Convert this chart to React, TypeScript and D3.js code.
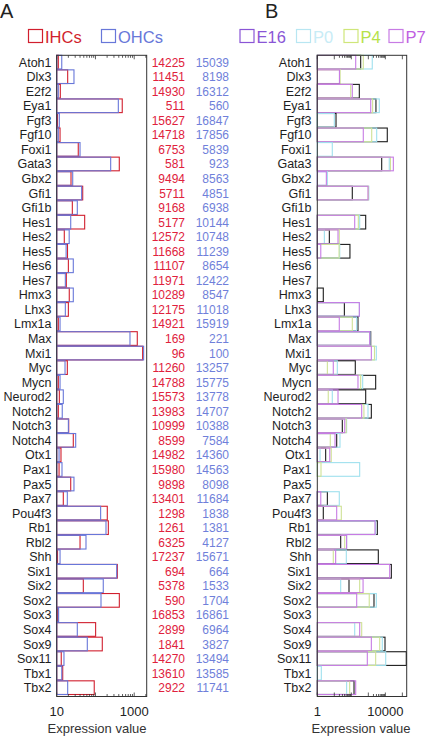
import * as d3 from 'd3';

// gene order, top to bottom
const genes = [
  'Atoh1', 'Dlx3', 'E2f2', 'Eya1', 'Fgf3', 'Fgf10', 'Foxi1', 'Gata3', 'Gbx2', 'Gfi1', 'Gfi1b',
  'Hes1', 'Hes2', 'Hes5', 'Hes6', 'Hes7', 'Hmx3', 'Lhx3', 'Lmx1a', 'Max', 'Mxi1', 'Myc',
  'Mycn', 'Neurod2', 'Notch2', 'Notch3', 'Notch4', 'Otx1', 'Pax1', 'Pax5', 'Pax7', 'Pou4f3',
  'Rb1', 'Rbl2', 'Shh', 'Six1', 'Six2', 'Sox2', 'Sox3', 'Sox4', 'Sox9', 'Sox11', 'Tbx1', 'Tbx2',
];

// panel A: rank columns
const ihcRank = [
  14225, 11451, 14930, 511, 15627, 14718, 6753, 581, 9494, 5711, 9168,
  5177, 12572, 11668, 11107, 11971, 10289, 12175, 14921, 169, 96, 11260,
  14788, 15573, 13983, 10999, 8599, 14982, 15980, 9898, 13401, 1298,
  1261, 6325, 17237, 694, 5378, 590, 16853, 2899, 1841, 14270, 13610, 2922,
];
const ohcRank = [
  15039, 8198, 16312, 560, 16847, 17856, 5839, 923, 8563, 4851, 6938,
  10144, 10748, 11239, 8654, 12422, 8547, 11018, 15919, 221, 100, 13257,
  15775, 13778, 14707, 10388, 7584, 14360, 14563, 8098, 11684, 1838,
  1381, 4127, 15671, 664, 1533, 1704, 16861, 6964, 3827, 13494, 13585, 11741,
];

// panel A: expression values (log axis)
const ihcExpr = [
  11, 19.2, 12.4, 491, 10.5, 12.2, 36, 412, 23.4, 46.9, 25.3,
  52.7, 15.7, 19, 20, 17.7, 21.1, 20, 11, 1200, 1650, 18.8,
  11, 11.7, 11, 20.4, 26.8, 12.9, 11.5, 23, 14.8, 202,
  215, 40, 10.5, 367, 48.6, 413, 10.4, 101, 150, 13.1, 14.3, 93,
];
const ohcExpr = [
  13.5, 27.9, 11, 389, 11.7, 11, 40, 247, 25.9, 44, 34,
  23, 21, 17.5, 26.8, 16.7, 26.8, 16.7, 12.2, 778, 1750, 16.4,
  12.2, 14.8, 13.9, 20, 30.9, 11.5, 13.7, 27.9, 18.8, 136,
  187, 57, 12.2, 353, 159, 139, 11.2, 34, 61.6, 15.4, 13.5, 19.2,
];

// panel B: expression by stage (null = not shown)
const e16 = [
  355, null, 295, 2800, 12.6, 13000, null, 6100, null, 114, null,
  700, 5.1, 83, null, null, 2.25, 39, 246, 1380, null, 171,
  2700, 700, 1500, 29.5, 13.8, 3.1, null, null, 3.9, 2.25,
  3380, 23.7, 3860, 22500, 73, 2150, null, null, 9550, 170000, null, 144,
];
const p0 = [
  1700, null, null, 4400, 10, 3100, 7.6, 17000, 3.9, 1070, null,
  310, 2.6, 20.8, null, null, null, 300, 207, 1250, 2950, 15,
  465, 7.6, 955, 53, 21.6, 1.45, 310, null, 19.6, null,
  2700, 53, 50.7, null, 23.7, 2950, null, 158, 6600, 10500, 1.72, 53,
];
const p4 = [
  505, 22, 92, 1790, null, 1580, null, 20000, null, 1000, null,
  258, 19.6, 19, null, null, null, null, 114, null, 2300, 3.9,
  355, 4.4, 550, 50, 5.8, 6.6, 1.65, null, null, 25.8,
  null, 40.8, 8.7, null, 310, 1130, null, 407, 4670, 2700, null, 80,
];
const p7 = [
  181, 20, 114, 1380, null, 505, null, 29500, 3.4, 955, null,
  158, 16.5, 1.6, null, null, null, 294, 19.6, 1200, 1500, 8.7,
  246, 16.5, 407, 40.8, 11, 5.4, null, null, 1.6, 13.8,
  2460, 53, 12, 18000, 490, 207, null, 310, 1500, 870, null, 181,
];

const W = 428;
const H = 736;
const FONT = 'Liberation Sans, Arial, sans-serif';

const RED = '#d11f2e';
const BLUE = '#6877d9';
const C_E16 = '#1c1c1c';
const C_P0 = '#9fe0ee';
const C_P4 = '#cfe296';
const C_P7 = '#c77be4';

const top = 55.3;
const bottom = 696.5;

export default function App() {
  const y = d3.scaleBand<string>().domain(genes).range([top, bottom - 2]).paddingInner(0.06);

  const xa = d3.scaleLog().domain([10, 2100]).range([56.7, 146.7]);
  const xb = d3.scaleLog().domain([1, 180000]).range([317.3, 406.7]);

  const isMajor = (v: number) => Math.abs(Math.log10(v) - Math.round(Math.log10(v))) < 1e-9;
  const ticksA = xa.ticks();
  // panel B only shows minor ticks in alternate decades
  const ticksB = xb.ticks().filter(v => {
    const dec = Math.floor(Math.log10(v) + 1e-9);
    return isMajor(v) || dec === 1 || dec === 3 || dec === 5;
  });

  const ticks = (x: d3.ScaleLogarithmic<number, number>, vals: number[]) =>
    vals.map((v, i) => {
      const len = isMajor(v) ? 4 : 2.5;
      const px = x(v);
      return (
        <g key={i}>
          <line x1={px} x2={px} y1={top} y2={top + len} stroke="#333" strokeWidth={0.8} />
          <line x1={px} x2={px} y1={bottom} y2={bottom - len} stroke="#333" strokeWidth={0.8} />
        </g>
      );
    });

  const frame = (x: d3.ScaleLogarithmic<number, number>) => {
    const [x0, x1] = x.range();
    return <rect x={x0} y={top} width={x1 - x0} height={bottom - top} fill="none" stroke="#333" strokeWidth={1} />;
  };

  const bar = (x: d3.ScaleLogarithmic<number, number>, g: string, v: number | null, color: string, key: string) => {
    if (v == null) return null;
    const x0 = x.range()[0];
    const w = Math.max(0, x(Math.max(v, x.domain()[0])) - x0);
    return (
      <rect key={key} x={x0} y={y(g)} width={w} height={y.bandwidth()}
        fill="none" stroke={color} strokeWidth={1.1} />
    );
  };

  const legendBox = (x: number, color: string, label: string, textColor: string, key: string) => (
    <g key={key}>
      <rect x={x} y={29.5} width={14} height={13} fill="none" stroke={color} strokeWidth={1.2} />
      <text x={x + 16.5} y={42.5} fontSize={16.5} fill={textColor} fontFamily={FONT}>{label}</text>
    </g>
  );

  return (
    <svg width={W} height={H} style={{ position: 'absolute', left: 0, top: 0, background: '#fff' }}>
      <text x={0} y={18} fontSize={20} fill="#222" fontFamily={FONT}>A</text>
      <text x={265} y={18} fontSize={20} fill="#222" fontFamily={FONT}>B</text>

      {legendBox(28.5, RED, 'IHCs', RED, 'ihc')}
      {legendBox(101.5, BLUE, 'OHCs', BLUE, 'ohc')}

      {legendBox(240, '#8a55d6', 'E16', '#8a55d6', 'e16')}
      {legendBox(296.5, '#b8e6f2', 'P0', '#c8ecf6', 'p0')}
      {legendBox(344, '#cfe67a', 'P4', '#b6e24a', 'p4')}
      {legendBox(389, '#c77be4', 'P7', '#c060e2', 'p7')}

      {/* panel A */}
      {genes.map((g, i) => (
        <g key={'a' + g}>
          {bar(xa, g, ihcExpr[i], RED, 'r')}
          {bar(xa, g, ohcExpr[i], BLUE, 'b')}
        </g>
      ))}
      {frame(xa)}
      {ticks(xa, ticksA)}
      {genes.map(g => {
        const cy = (y(g) as number) + y.bandwidth() / 2 + 4.5;
        return (
          <text key={'la' + g} x={51.5} y={cy} textAnchor="end" fontSize={12.5} fill="#1e1e1e" fontFamily={FONT}>{g}</text>
        );
      })}
      {genes.map((g, i) => {
        const cy = (y(g) as number) + y.bandwidth() / 2 + 4.5;
        return (
          <g key={'n' + g}>
            <text x={185} y={cy} textAnchor="end" fontSize={12} fill="#e0213c" fontFamily={FONT}>{ihcRank[i]}</text>
            <text x={229} y={cy} textAnchor="end" fontSize={12} fill="#6f7fda" fontFamily={FONT}>{ohcRank[i]}</text>
          </g>
        );
      })}
      <text x={xa(10)} y={716} textAnchor="middle" fontSize={13} fill="#222" fontFamily={FONT}>10</text>
      <text x={xa(1000)} y={716} textAnchor="middle" fontSize={13} fill="#222" fontFamily={FONT}>1000</text>
      <text x={97} y={733} textAnchor="middle" fontSize={13} fill="#333" fontFamily={FONT}>Expression value</text>

      {/* panel B: E16 drawn first so the later stages sit on top */}
      {genes.map((g, i) => (
        <g key={'b' + g}>
          {bar(xb, g, e16[i], C_E16, 'e16')}
          {bar(xb, g, p0[i], C_P0, 'p0')}
          {bar(xb, g, p4[i], C_P4, 'p4')}
          {bar(xb, g, p7[i], C_P7, 'p7')}
        </g>
      ))}
      {frame(xb)}
      {ticks(xb, ticksB)}
      {genes.map(g => {
        const cy = (y(g) as number) + y.bandwidth() / 2 + 4.5;
        return (
          <text key={'lb' + g} x={311.5} y={cy} textAnchor="end" fontSize={12.5} fill="#1e1e1e" fontFamily={FONT}>{g}</text>
        );
      })}
      <text x={xb(1)} y={716} textAnchor="middle" fontSize={13} fill="#222" fontFamily={FONT}>1</text>
      <text x={xb(10000)} y={716} textAnchor="middle" fontSize={13} fill="#222" fontFamily={FONT}>10000</text>
      <text x={361} y={733} textAnchor="middle" fontSize={13} fill="#333" fontFamily={FONT}>Expression value</text>
    </svg>
  );
}
